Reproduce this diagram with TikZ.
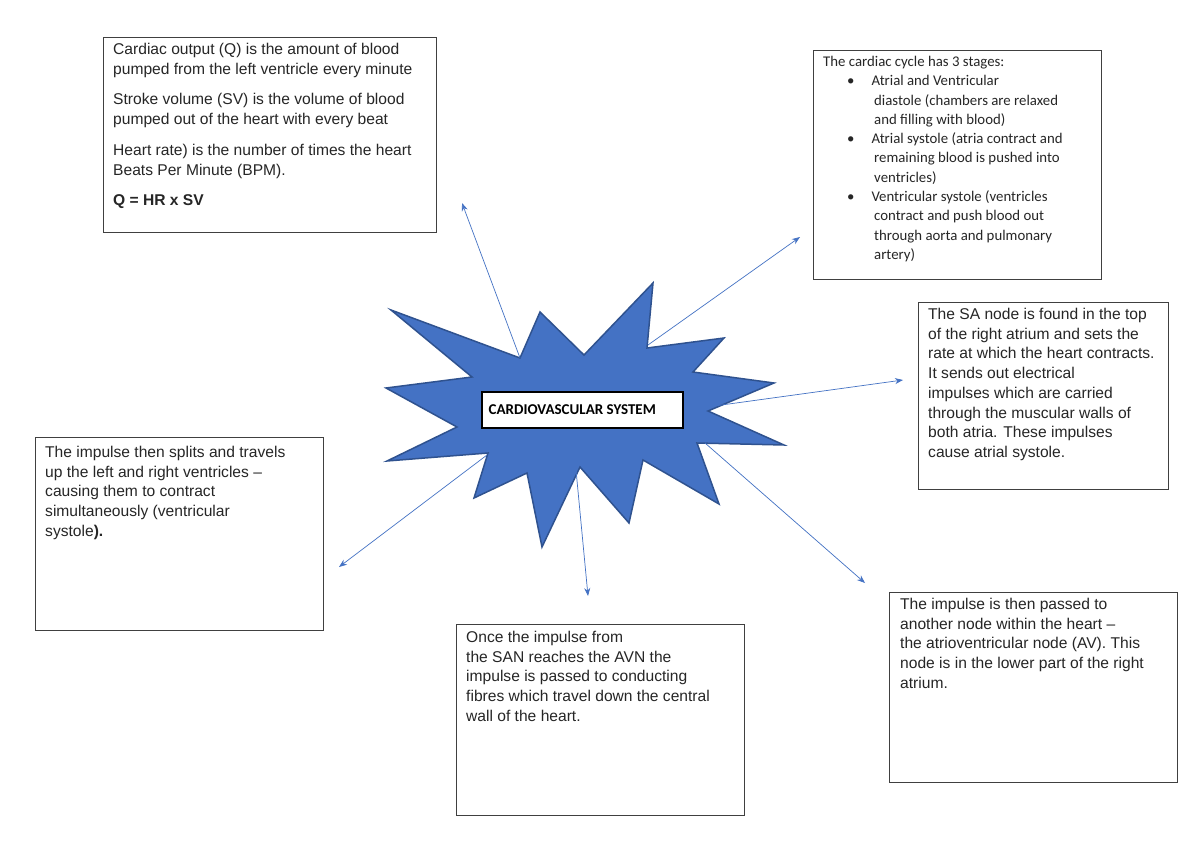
\documentclass[tikz,border=0pt]{standalone}
\usepackage{fontspec}
\setmainfont{Liberation Sans}
\newfontfamily\calfont{Carlito}
\usetikzlibrary{arrows.meta}
\definecolor{starblue}{RGB}{68,114,196}
\definecolor{staredge}{RGB}{47,82,143}
\begin{document}
\begin{tikzpicture}[x=1pt,y=-1pt,
  infobox/.style={draw=black!75,line width=0.8pt,anchor=north west,inner sep=0pt},
  infotext/.style={anchor=north west,align=left,font=\fontsize{15.6}{19.7}\selectfont,text=black!85,inner sep=0pt},
  link/.style={draw=starblue,line width=0.7pt,-{Stealth[length=8pt,width=6pt]}}]
\useasboundingbox (0,0) rectangle (1200,848);
\fill[white] (0,0) rectangle (1200,848);
% star
\filldraw[fill=starblue,draw=staredge,line width=1.5pt,line join=miter]
 (391,310)--(520,358)--(540,312)--(584,355)--(653,283)--(647,348)--(724,338)--(693,372)--(774,383)--(708,411)--(784,445)--(697,443)--(719,504)--(643,460)--(629,523)--(580,467)--(542,547)--(527,473)--(474,498)--(488,453)--(387,461)--(457,427)--(386,388)--(472,377)--cycle;
\node[draw=black,line width=1.5pt,fill=white,minimum width=201pt,minimum height=36pt,anchor=north west,inner sep=0pt] (title) at (481,391) {};
\node[font=\calfont\bfseries\fontsize{15}{17}\selectfont] at ([xshift=-10pt]title.center) {CARDIOVASCULAR SYSTEM};
% star anchor coordinates
\coordinate (s1) at (520,358);
\coordinate (s2) at (648,345);
\coordinate (s3) at (707,407);
\coordinate (s4) at (705,443);
\coordinate (s5) at (576,470);
\coordinate (s6) at (487,455);
% boxes
\node[infobox,minimum width=333pt,minimum height=195pt] (A) at (103,37) {};
\node[infobox,minimum width=288pt,minimum height=229pt] (B) at (813,50) {};
\node[infobox,minimum width=250pt,minimum height=187pt] (C) at (918,302) {};
\node[infobox,minimum width=288pt,minimum height=190pt] (D) at (889,592) {};
\node[infobox,minimum width=288pt,minimum height=191pt] (E) at (456,624) {};
\node[infobox,minimum width=288pt,minimum height=193pt] (F) at (35,437) {};
% texts
\node[infotext] (At) at (113,43) {Cardiac output (Q) is the amount of blood\\pumped from the left ventricle every minute\\[11pt]Stroke volume (SV) is the volume of blood\\pumped out of the heart with every beat\\[11pt]Heart rate) is the number of times the heart\\Beats Per Minute (BPM).\\[11pt]\textbf{Q = HR x SV}};
\node[infotext,font=\calfont\fontsize{14.8}{19.3}\selectfont] (Bt) at (823,56) {The cardiac cycle has 3 stages:\\
\hspace*{24pt}\textbullet\hspace{17pt}Atrial and Ventricular\\
\hspace*{51pt}diastole (chambers are relaxed\\
\hspace*{51pt}and filling with blood)\\
\hspace*{24pt}\textbullet\hspace{17pt}Atrial systole (atria contract and\\
\hspace*{51pt}remaining blood is pushed into\\
\hspace*{51pt}ventricles)\\
\hspace*{24pt}\textbullet\hspace{17pt}Ventricular systole (ventricles\\
\hspace*{51pt}contract and push blood out\\
\hspace*{51pt}through aorta and pulmonary\\
\hspace*{51pt}artery)};
\node[infotext] (Ct) at (928,308) {The SA node is found in the top\\of the right atrium and sets the\\rate at which the heart contracts.\\It sends out electrical\\impulses which are carried\\through the muscular walls of\\both atria. These impulses\\cause atrial systole.};
\node[infotext] (Dt) at (900,598) {The impulse is then passed to\\another node within the heart --\\the atrioventricular node (AV). This\\node is in the lower part of the right\\atrium.};
\node[infotext] (Et) at (466,631) {Once the impulse from\\the SAN reaches the AVN the\\impulse is passed to conducting\\fibres which travel down the central\\wall of the heart.};
\node[infotext] (Ft) at (45,446) {The impulse then splits and travels\\up the left and right ventricles --\\causing them to contract\\simultaneously (ventricular\\systole\textbf{).}};
% arrow tips
\coordinate (tA) at (462,203);
\coordinate (tB) at (800,237);
\coordinate (tC) at (903,380);
\coordinate (tD) at (865,583);
\coordinate (tE) at (588,596);
\coordinate (tF) at (339,567);
\draw[link] (s1)--(tA);
\draw[link] (s2)--(tB);
\draw[link] (s3)--(tC);
\draw[link] (s4)--(tD);
\draw[link] (s5)--(tE);
\draw[link] (s6)--(tF);
\end{tikzpicture}
\end{document}
